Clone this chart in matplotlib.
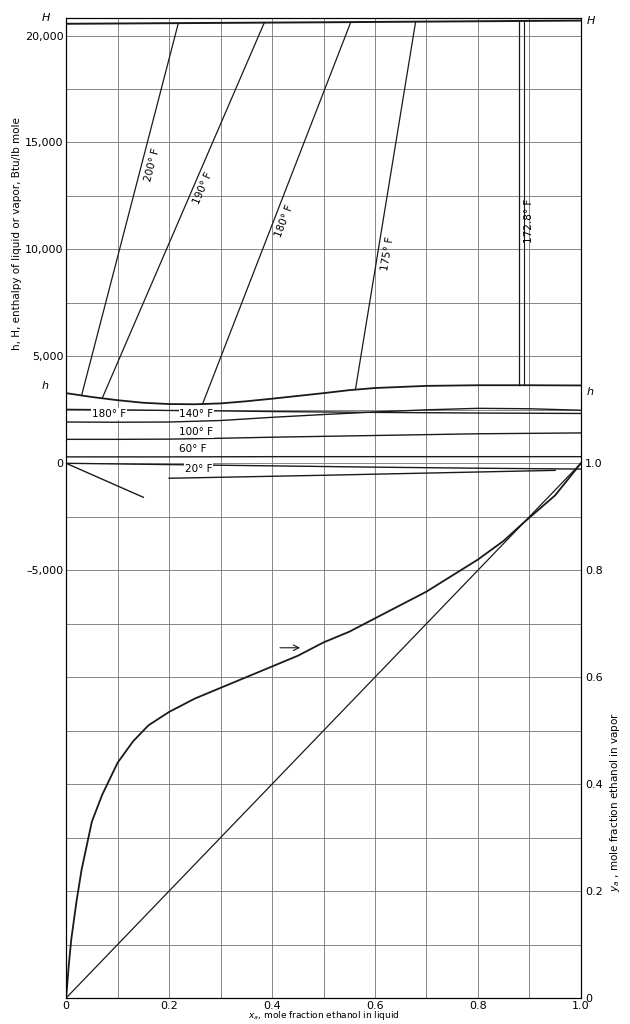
import matplotlib
matplotlib.use("Agg")
import matplotlib.pyplot as plt
import numpy as np

# enthalpy-concentration data (Btu/lb mole) vs mole fraction ethanol
vapor_x = [0.0, 0.5, 1.0]
vapor_H = [20550, 20620, 20700]
liquid_x = [0.0, 0.05, 0.1, 0.15, 0.2, 0.25, 0.3, 0.35, 0.4, 0.45, 0.5, 0.55, 0.6, 0.7, 0.8, 0.9, 1.0]
liquid_h = [3280, 3100, 2950, 2830, 2770, 2760, 2800, 2900, 3020, 3150, 3280, 3420, 3520, 3620, 3650, 3650, 3640]

iso_x = [0.0, 0.1, 0.2, 0.3, 0.4, 0.5, 0.6, 0.7, 0.8, 0.9, 1.0]
iso_180 = [2520, 2500, 2470, 2450, 2420, 2400, 2380, 2365, 2350, 2340, 2330]
iso_140 = [1930, 1920, 1930, 2000, 2150, 2280, 2400, 2500, 2570, 2550, 2480]
iso_100 = [1120, 1120, 1130, 1170, 1220, 1260, 1300, 1340, 1380, 1400, 1420]
iso_60 = [300, 300, 300, 305, 310, 310, 310, 310, 310, 310, 310]
iso_0 = [0, -30, -60, -90, -120, -150, -180, -205, -230, -250, -270]
iso_20_x = [0.2, 0.5, 0.95]
iso_20 = [-700, -560, -330]
branch_x = [0.0, 0.15]
branch_h = [0, -1590]

# vapor isotherms: (x on h curve, x on H curve, label, label position along line)
tie_lines = [
    (0.03, 0.218, "200° F", 0.62),
    (0.07, 0.385, "190° F", 0.56),
    (0.265, 0.553, "180° F", 0.48),
    (0.562, 0.679, "175° F", 0.37),
    (0.88, 0.88, "172.8° F", 0.45),
]

# equilibrium curve
eq_x = [0.0, 0.005, 0.01, 0.02, 0.03, 0.05, 0.07, 0.1, 0.13, 0.16, 0.2, 0.25, 0.3, 0.35, 0.4,
        0.45, 0.5, 0.55, 0.6, 0.65, 0.7, 0.75, 0.8, 0.85, 0.89, 0.95, 1.0]
eq_y = [0.0, 0.06, 0.11, 0.18, 0.24, 0.33, 0.38, 0.44, 0.48, 0.51, 0.535, 0.56, 0.58, 0.60, 0.62,
        0.64, 0.665, 0.685, 0.71, 0.735, 0.76, 0.79, 0.82, 0.855, 0.89, 0.94, 1.0]

H_MIN, H_MAX = -25000, 20800

fig = plt.figure(figsize=(6.3, 10.24), dpi=100)
ax = fig.add_axes([0.105, 0.0254, 0.817, 0.9566])
ax.set_xlim(0, 1)
ax.set_ylim(H_MIN, H_MAX)
ax.set_xticks(np.arange(0, 1.01, 0.1))
ax.set_xticklabels(["0", "", "0.2", "", "0.4", "", "0.6", "", "0.8", "", "1.0"], fontsize=8)
yt = np.arange(-25000, 20001, 2500)
ax.set_yticks(yt)
ax.set_yticklabels([f"{int(v):,}" if v in (20000, 15000, 10000, 5000, 0) else ("\u20135,000" if v == -5000 else "")
                    for v in yt], fontsize=8)
ax.tick_params(length=0, pad=2)
ax.grid(True, color="0.45", linewidth=0.6)
for s in ax.spines.values():
    s.set_linewidth(0.8)

lc = "0.1"
ax.plot(vapor_x, vapor_H, color=lc, lw=1.4)
ax.plot(liquid_x, liquid_h, color=lc, lw=1.3)
for ys in (iso_180, iso_140, iso_100, iso_60, iso_0):
    ax.plot(iso_x, ys, color=lc, lw=1.0)
ax.plot(iso_20_x, iso_20, color=lc, lw=1.0)
ax.plot(branch_x, branch_h, color=lc, lw=1.0)

h_interp = lambda x: np.interp(x, liquid_x, liquid_h)
H_interp = lambda x: np.interp(x, vapor_x, vapor_H)
fig.canvas.draw()
for x0, x1, lab, t in tie_lines:
    y0, y1 = h_interp(x0), H_interp(x1)
    ax.plot([x0, x1], [y0, y1], color=lc, lw=0.9)
    xm, ym = x0 + t * (x1 - x0), y0 + t * (y1 - y0)
    p0 = ax.transData.transform((x0, y0))
    p1 = ax.transData.transform((x1, y1))
    ang = np.degrees(np.arctan2(p1[1] - p0[1], p1[0] - p0[0]))
    ax.text(xm + 0.02, ym, lab, rotation=ang, fontsize=7.5, ha="center", va="center",
            rotation_mode="anchor")
ax.plot([0.89, 0.89], [h_interp(0.89), H_interp(0.89)], color=lc, lw=0.8)

for txt, xy in [("180° F", (0.05, 2300)), ("140° F", (0.22, 2300)), ("100° F", (0.22, 1450)),
                ("60° F", (0.22, 650)), ("20° F", (0.23, -270))]:
    ax.text(xy[0], xy[1], txt, fontsize=7.5, va="center",
            bbox=dict(facecolor="white", edgecolor="none", pad=0.5))

ax.text(-0.04, vapor_H[0] + 250, "H", fontsize=8, style="italic", ha="center", va="center")
ax.text(1.012, vapor_H[-1], "H", fontsize=8, style="italic", ha="left", va="center")
ax.text(-0.04, liquid_h[0] + 350, "h", fontsize=8, style="italic", ha="center", va="center")
ax.text(1.012, liquid_h[-1] - 300, "h", fontsize=8, style="italic", ha="left", va="center")
ax.set_ylabel("h, H, enthalpy of liquid or vapor, Btu/lb mole", fontsize=7.5, y=0.78, labelpad=2)
ax.set_xlabel("$x_a$, mole fraction ethanol in liquid", fontsize=6.5, labelpad=-1)

ax2 = ax.twinx()
ax2.set_ylim(0, (H_MAX - H_MIN) / (-H_MIN))
ax2.set_yticks([0, 0.2, 0.4, 0.6, 0.8, 1.0])
ax2.set_yticklabels(["0", "0.2", "0.4", "0.6", "0.8", "1.0"], fontsize=8)
ax2.tick_params(length=0, pad=3)
ax2.plot(eq_x, eq_y, color=lc, lw=1.3)
ax2.plot([0, 1], [0, 1], color=lc, lw=0.9)
ax2.annotate("", xy=(0.46, 0.655), xytext=(0.41, 0.655),
             arrowprops=dict(arrowstyle="->", color=lc, lw=0.8))
ax2.set_ylabel("$y_a$ , mole fraction ethanol in vapor", fontsize=7.5, y=0.2, labelpad=4)

fig.savefig("out.png", dpi=100)
